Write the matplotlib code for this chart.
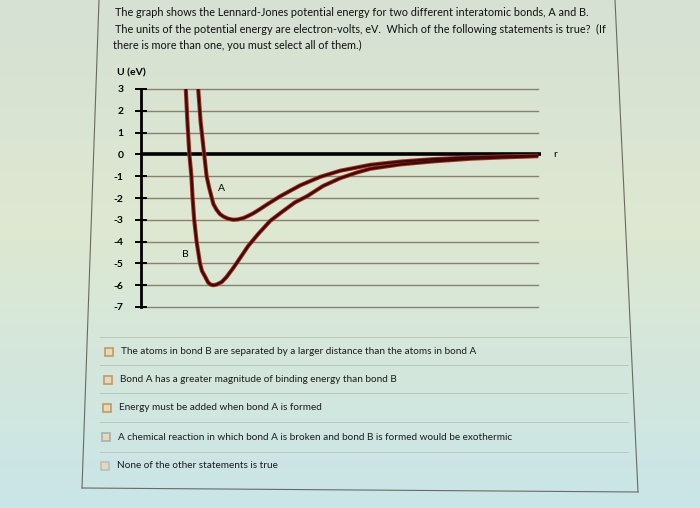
import numpy as np
import matplotlib
matplotlib.use("Agg")
import matplotlib.pyplot as plt

# values: r in arbitrary units (0 at the U axis), U in eV
r_b = [1.12, 1.16, 1.21, 1.26, 1.29, 1.33, 1.39, 1.475, 1.525, 1.60, 1.68, 1.74,
       1.81, 1.89, 2.02, 2.14, 2.31, 2.43, 2.68, 2.93, 3.23, 3.53, 3.85, 4.15,
       4.55, 4.98, 5.40, 5.73, 6.48, 7.30, 8.23, 8.98, 9.93]
u_b = [3.0, 1.5, 0.0, -1.0, -2.0, -3.0, -4.0, -5.0, -5.35, -5.6, -5.88, -5.97,
       -6.0, -5.97, -5.85, -5.62, -5.2, -4.88, -4.2, -3.65, -3.05, -2.63, -2.2, -1.92,
       -1.45, -1.09, -0.83, -0.66, -0.46, -0.32, -0.2, -0.14, -0.08]
r_a = [1.43, 1.49, 1.58, 1.64, 1.70, 1.77, 1.81, 1.89, 1.975, 2.06, 2.18, 2.31,
       2.43, 2.56, 2.68, 2.81, 2.975, 3.14, 3.48, 3.98, 4.48, 4.98, 5.73, 6.48,
       7.30, 8.23, 8.98, 9.93]
u_a = [3.0, 1.5, 0.0, -1.0, -1.5, -2.0, -2.28, -2.54, -2.74, -2.85, -2.95, -3.0,
       -2.98, -2.92, -2.82, -2.7, -2.51, -2.31, -1.92, -1.42, -1.03, -0.75, -0.48, -0.33,
       -0.22, -0.14, -0.1, -0.06]
u_ticks = [3, 2, 1, 0, -1, -2, -3, -4, -5, -6, -7]

question = [
    "The graph shows the Lennard-Jones potential energy for two different interatomic bonds, A and B.",
    "The units of the potential energy are electron-volts, eV.  Which of the following statements is true?  (If",
    "there is more than one, you must select all of them.)",
]
options = [
    "The atoms in bond B are separated by a larger distance than the atoms in bond A",
    "Bond A has a greater magnitude of binding energy than bond B",
    "Energy must be added when bond A is formed",
    "A chemical reaction in which bond A is broken and bond B is formed would be exothermic",
    "None of the other statements is true",
]

plt.rcParams["font.family"] = ["Lato", "DejaVu Sans"]

fig = plt.figure(figsize=(7, 5.08), dpi=100)

# page background, frame and question text, in pixel coordinates
bg = fig.add_axes([0, 0, 1, 1], zorder=0)
bg.set_xlim(0, 700)
bg.set_ylim(508, 0)
bg.axis("off")
grad = np.linspace(0, 1, 256)[:, None]
top = np.array([0.84, 0.88, 0.83])
mid = np.array([0.87, 0.91, 0.82])
bot = np.array([0.79, 0.90, 0.91])
col = np.where(grad < 0.45, top + (mid - top) * grad / 0.45,
               mid + (bot - mid) * (grad - 0.45) / 0.55)
bg.imshow(np.repeat(col[:, None, :], 2, axis=1).reshape(256, 2, 3),
          extent=[0, 700, 508, 0], aspect="auto")

frame = "#6a6a60"
bg.plot([99, 82], [0, 488], color=frame, lw=0.8)
bg.plot([615, 638], [0, 492], color=frame, lw=0.8)
bg.plot([82, 638], [488, 492], color=frame, lw=0.8)

for i, line in enumerate(question):
    bg.text(115 - (2 if i == 2 else 0), 13 + 16 * i, line, fontsize=7.8,
            color="#101010", va="center", ha="left")

box_y = [352, 380, 408, 437, 466]
box_x = [109, 108, 107, 106, 105]
box_col = ["#c49a62", "#c49a62", "#c49a62", "#a8b0b0", "#b8c0c0"]
for y in [337, 365, 393, 422, 452]:
    bg.plot([100, 628], [y, y], color="#b4b8aa", lw=0.5)
for opt, x, y, c in zip(options, box_x, box_y, box_col):
    bg.add_patch(plt.Rectangle((x - 4, y - 4), 8, 8, facecolor="#e6d8bc",
                               edgecolor=c, lw=1.2))
    bg.text(x + 12, y, opt, fontsize=7.2, color="#1c1c1c",
            va="center", ha="left")

# the potential energy chart
ax = fig.add_axes([141 / 700, (508 - 307) / 508, 400 / 700, 218 / 508], zorder=1)
ax.patch.set_alpha(0)
ax.set_xlim(0, 10)
ax.set_ylim(-7, 3)
for s in ["top", "right", "bottom"]:
    ax.spines[s].set_visible(False)
ax.spines["left"].set_linewidth(2)
ax.set_xticks([])
ax.set_yticks(u_ticks)
ax.set_yticklabels([str(t) for t in u_ticks], fontsize=7.5, fontweight="bold")
ax.tick_params(axis="y", direction="inout", length=9, width=1.4, pad=8)

for t in u_ticks:
    if t != 0:
        ax.axhline(t, xmin=0, xmax=0.993, color="#8a8070", lw=1.0, zorder=1,
                   clip_on=False)
ax.axhline(0, color="black", lw=2.6, zorder=2)

for r, u in [(r_a, u_a), (r_b, u_b)]:
    ax.plot(r, u, color="#a8321e", lw=3.0, zorder=3, solid_capstyle="butt",
            solid_joinstyle="round")
    ax.plot(r, u, color="#3c0a0a", lw=1.7, zorder=4, solid_capstyle="butt",
            solid_joinstyle="round")

ax.text(2.02, -1.55, "A", fontsize=7.5, ha="center", va="center")
ax.text(1.1, -4.6, "B", fontsize=7.5, ha="center", va="center")
ax.text(10.35, 0, "r", fontsize=7.5, ha="center", va="center")
ax.text(-0.6, 3.75, "U (eV)", fontsize=7.5, fontweight="bold", ha="left", va="center")

fig.savefig("out.png", dpi=100)
